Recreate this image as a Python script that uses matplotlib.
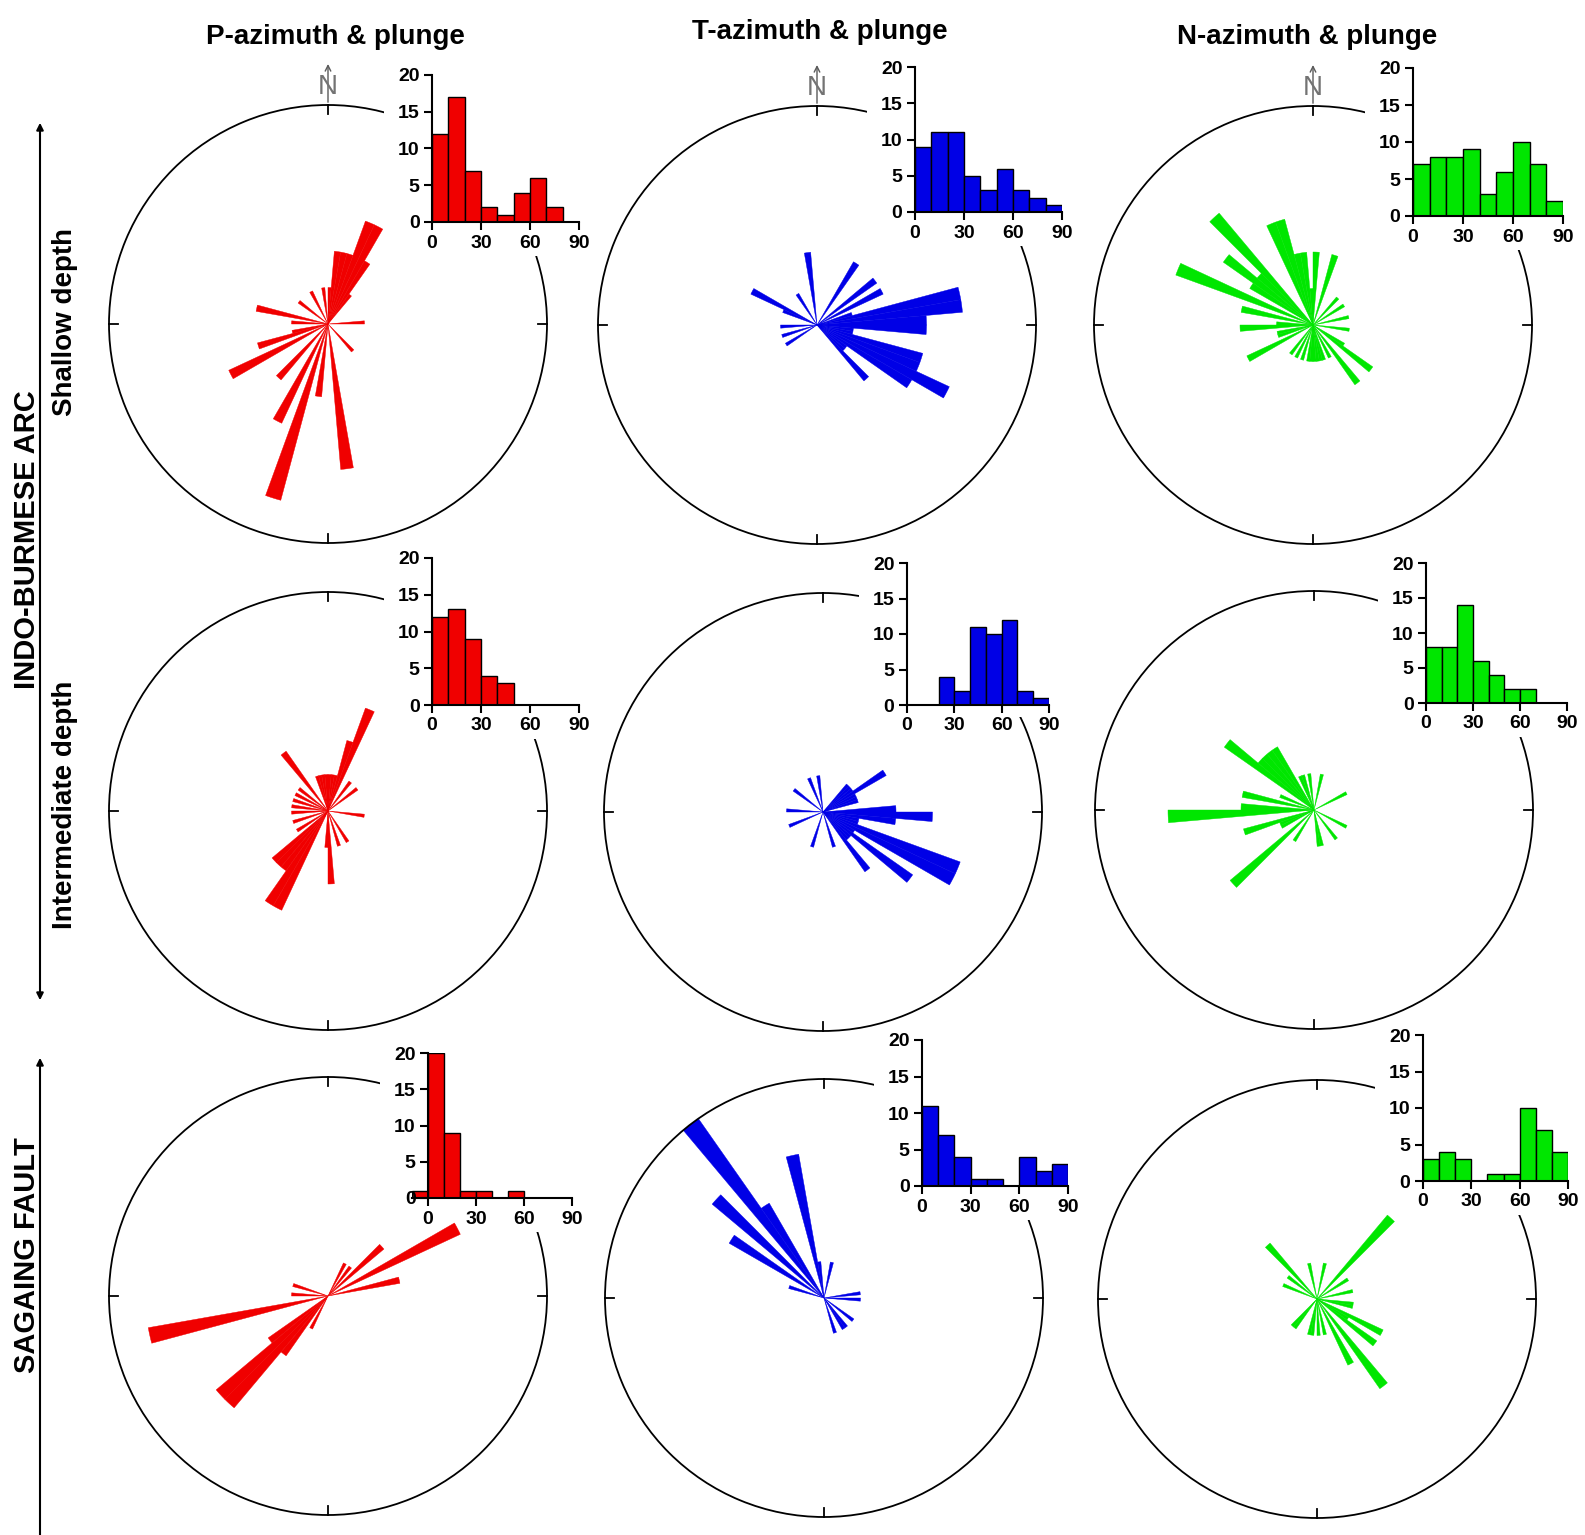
import numpy as np
import matplotlib
matplotlib.use("Agg")
import matplotlib.pyplot as plt
from matplotlib.patches import Rectangle, FancyArrowPatch

plt.rcParams["font.family"] = ["Liberation Sans", "DejaVu Sans"]
plt.rcParams["font.weight"] = "bold"

# ---- plunge histograms (10 degree bins) ----
bins = np.arange(0, 100, 10)
bins_neg = np.arange(-10, 100, 10)   # Sagaing P has one event below 0
p_shallow_hist = [12, 17, 7, 2, 1, 4, 6, 2, 0]
t_shallow_hist = [9, 11, 11, 5, 3, 6, 3, 2, 1]
n_shallow_hist = [7, 8, 8, 9, 3, 6, 10, 7, 2]
p_inter_hist = [12, 13, 9, 4, 3, 0, 0, 0, 0]
t_inter_hist = [0, 0, 4, 2, 11, 10, 12, 2, 1]
n_inter_hist = [8, 8, 14, 6, 4, 2, 2, 0, 0]
p_sag_hist = [1, 20, 9, 1, 1, 0, 1, 0, 0, 0]
t_sag_hist = [11, 7, 4, 1, 1, 0, 4, 2, 3]
n_sag_hist = [3, 4, 3, 0, 1, 1, 10, 7, 4]

# ---- rose diagrams: azimuth bin start (5 degree bins) and counts ----
p_shallow_az = [350, 0, 5, 10, 15, 20, 25, 30, 35, 85, 135, 170, 185, 195, 205, 220, 240, 250, 255, 270, 280, 305, 330]
p_shallow_n = [1, 1, 2, 2, 2, 3, 3, 2, 1, 1, 1, 4, 2, 5, 3, 2, 3, 2, 1, 1, 2, 1, 1]
t_shallow_az = [350, 325, 295, 290, 265, 250, 235, 30, 50, 60, 70, 75, 80, 85, 90, 95, 100, 105, 110, 115, 120, 125, 130, 135]
t_shallow_n = [2, 1, 2, 1, 1, 1, 1, 2, 2, 2, 1, 4, 4, 3, 3, 1, 1, 3, 3, 4, 3, 1, 1, 2]
n_shallow_az = [315, 290, 305, 310, 300, 335, 340, 345, 350, 0, 15, 355, 40, 55, 75, 95, 125, 140, 120,
                150, 160, 165, 170, 175, 180, 185, 195, 205, 215, 240, 250, 255, 265, 280, 270]
n_shallow_n = [4, 4, 3, 2, 2, 3, 3, 2, 2, 2, 2, 1, 1, 1, 1, 1, 2, 2, 1,
               1, 1, 1, 1, 1, 1, 1, 1, 1, 1, 2, 1, 1, 2, 2, 1]
p_inter_az = [340, 345, 350, 355, 0, 5, 10, 15, 20, 35, 50, 95, 145, 160, 175, 180, 205, 210, 215, 220, 225,
              235, 250, 265, 275, 285, 295, 305, 320]
p_inter_n = [1, 1, 1, 1, 1, 1, 1, 2, 3, 1, 1, 1, 1, 1, 2, 1, 3, 3, 2, 2, 2,
             1, 1, 1, 1, 1, 1, 1, 2]
t_inter_az = [335, 350, 305, 270, 245, 195, 160, 55, 40, 45, 50, 60, 65, 70, 85, 90, 95, 100, 105, 110, 115,
              120, 125, 130, 135, 140]
t_inter_n = [1, 1, 1, 1, 1, 1, 1, 2, 1, 1, 1, 1, 1, 1, 2, 3, 2, 1, 1, 4, 4,
             1, 3, 1, 1, 2]
n_inter_az = [305, 310, 315, 320, 325, 335, 340, 350, 10, 60, 115, 140, 165, 170, 210, 225, 240, 245, 250,
              265, 270, 280, 290]
n_inter_n = [3, 2, 2, 2, 2, 1, 1, 1, 1, 1, 1, 1, 1, 1, 1, 3, 1, 1, 2,
             4, 2, 2, 1]
p_sag_az = [60, 45, 75, 25, 35, 255, 220, 225, 215, 230, 205, 285, 270]
p_sag_n = [4, 2, 2, 1, 1, 5, 4, 4, 2, 2, 1, 1, 1]
t_sag_az = [320, 325, 310, 300, 345, 350, 10, 285, 80, 90, 125, 140, 145, 160]
t_sag_n = [6, 3, 4, 3, 4, 1, 1, 1, 1, 1, 1, 1, 1, 1]
n_sag_az = [40, 315, 345, 10, 290, 305, 55, 75, 95, 100, 115, 120, 125, 140, 150, 165, 175, 185, 190, 215, 220]
n_sag_n = [3, 2, 1, 1, 1, 1, 1, 1, 1, 1, 2, 1, 2, 3, 2, 1, 1, 1, 1, 1, 1]

RED, BLUE, GREEN = "#f00000", "#0000e6", "#00e600"

panels = [
    [(p_shallow_az, p_shallow_n, bins, p_shallow_hist, RED),
     (t_shallow_az, t_shallow_n, bins, t_shallow_hist, BLUE),
     (n_shallow_az, n_shallow_n, bins, n_shallow_hist, GREEN)],
    [(p_inter_az, p_inter_n, bins, p_inter_hist, RED),
     (t_inter_az, t_inter_n, bins, t_inter_hist, BLUE),
     (n_inter_az, n_inter_n, bins, n_inter_hist, GREEN)],
    [(p_sag_az, p_sag_n, bins_neg, p_sag_hist, RED),
     (t_sag_az, t_sag_n, bins, t_sag_hist, BLUE),
     (n_sag_az, n_sag_n, bins, n_sag_hist, GREEN)],
]

W, H = 1585, 1535
fig = plt.figure(figsize=(W / 100, H / 100), dpi=100)


def box(x0, y0, x1, y1):
    # pixel box (origin top left) -> figure fraction rect
    return [x0 / W, 1 - y1 / H, (x1 - x0) / W, (y1 - y0) / H]


R = 219
centres = [[(328, 324), (817, 325), (1313, 325)],
           [(328, 811), (823, 812), (1314, 810)],
           [(328, 1296), (824, 1298), (1317, 1299)]]
# histogram frame in pixels: x of plunge 0, x of 90, y of count 0, y of count 20
hist_px = [[(432, 579, 222, 75), (915, 1062, 212, 67), (1413, 1563, 216, 68)],
           [(432, 579, 705, 558), (907, 1049, 705, 563), (1426, 1567, 703, 563)],
           [(428, 572, 1198, 1053), (922, 1068, 1186, 1040), (1423, 1568, 1181, 1035)]]

for i in range(3):
    for j in range(3):
        az, n, hb, hc, col = panels[i][j]
        cx, cy = centres[i][j]

        ax = fig.add_axes(box(cx - R, cy - R, cx + R, cy + R), projection="polar", zorder=1)
        ax.set_theta_zero_location("N")
        ax.set_theta_direction(-1)
        ax.bar(np.deg2rad(np.array(az) + 2.5), n, width=np.deg2rad(5), bottom=0,
               color=col, edgecolor=col, linewidth=0.3)
        for t in (0, 90, 180, 270):
            ax.plot([np.deg2rad(t)] * 2, [5.76, 6.0], color="k", lw=1.3, clip_on=False)
        ax.set_rlim(0, 6)
        ax.grid(False)
        ax.set_xticks([])
        ax.set_yticks([])
        ax.spines["polar"].set_linewidth(1.3)
        if i == 0:
            # north arrow
            ax.annotate("", xy=(0.5, 1.10), xytext=(0.5, 1.0), xycoords="axes fraction",
                        arrowprops=dict(arrowstyle="->", color="0.35", lw=1.0), annotation_clip=False)
            ax.text(0.5, 1.042, "N", transform=ax.transAxes, ha="center", va="center",
                    fontsize=20, fontweight="normal", color="0.45")

        x0, x90, y0, y20 = hist_px[i][j]
        xl = x0 + (x90 - x0) / 90 * hb[0]
        # white ground under the inset frame, ticks and y labels; it breaks the circle
        fig.add_artist(Rectangle(((x0 - 48) / W, 1 - (y0 + 12) / H), (x90 - x0 + 56) / W,
                                 (y0 - y20 + 20) / H, transform=fig.transFigure,
                                 facecolor="white", edgecolor="none", zorder=2))
        hx = fig.add_axes(box(xl, y20, x90, y0), zorder=3)
        hx.bar(hb[:-1], hc, width=10, align="edge", color=col, edgecolor="k", linewidth=1)
        hx.set_xlim(hb[0], 90)
        hx.set_ylim(0, 20)
        hx.spines[["top", "right"]].set_visible(False)
        hx.spines["left"].set_position(("data", 0))
        for s in hx.spines.values():
            s.set_linewidth(1.5)
        hx.set_xticks([0, 30, 60, 90])
        hx.set_yticks([0, 5, 10, 15, 20])
        hx.tick_params(direction="out", length=6, width=1.5, labelsize=14, pad=3)
        for tk in hx.xaxis.get_major_ticks():
            tk.label1.set_bbox(dict(facecolor="white", edgecolor="none", pad=3))

# column titles
fig.text(335 / W, 1 - 37 / H, "P-azimuth & plunge", ha="center", va="center", fontsize=20)
fig.text(820 / W, 1 - 32 / H, "T-azimuth & plunge", ha="center", va="center", fontsize=20)
fig.text(1307 / W, 1 - 37 / H, "N-azimuth & plunge", ha="center", va="center", fontsize=20)

# side labels
fig.text(27 / W, 1 - 540 / H, "INDO-BURMESE ARC", rotation=90, ha="center", va="center", fontsize=21)
fig.text(65 / W, 1 - 322 / H, "Shallow depth", rotation=90, ha="center", va="center", fontsize=20)
fig.text(65 / W, 1 - 805 / H, "Intermediate depth", rotation=90, ha="center", va="center", fontsize=20)
fig.text(27 / W, 1 - 1255 / H, "SAGAING FAULT", rotation=90, ha="center", va="center", fontsize=21)

fig.add_artist(FancyArrowPatch((40 / W, 1 - 120 / H), (40 / W, 1 - 1003 / H), transform=fig.transFigure,
                               arrowstyle="<|-|>", mutation_scale=10, lw=1.5, color="k"))
fig.add_artist(FancyArrowPatch((40 / W, 1 - 1055 / H), (40 / W, 1 - 1540 / H), transform=fig.transFigure,
                               arrowstyle="<|-", mutation_scale=10, lw=1.5, color="k"))

fig.savefig("out.png", dpi=100, facecolor="white")
